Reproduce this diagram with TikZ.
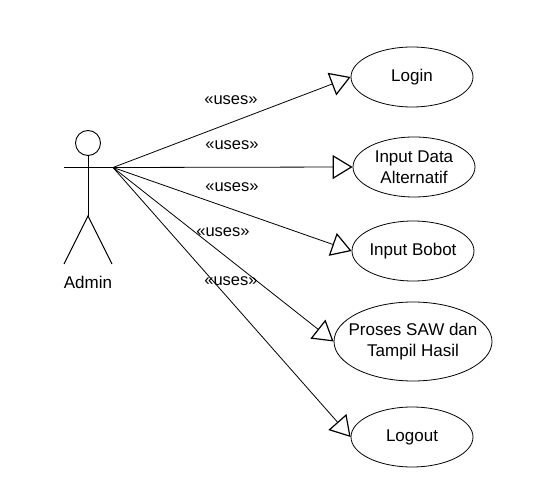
\documentclass[tikz,border=0pt]{standalone}
\usepackage{fontspec}
\setmainfont{Liberation Sans}
\usetikzlibrary{shapes.geometric,arrows.meta}
\tikzset{
  usecase/.style={draw=black,line width=0.8pt,ellipse,inner sep=-25pt,minimum width=122pt,minimum height=60pt,align=center,font=\fontsize{17}{20.5}\selectfont},
  usecasebig/.style={usecase,minimum width=158pt,minimum height=79pt},
  assoc/.style={draw=black,line width=0.8pt,-{Triangle[open,length=20pt,width=24pt,line width=1.2pt]}},
  stereo/.style={inner sep=0pt,font=\fontsize{16.5}{20}\selectfont},
  limb/.style={draw=black,line width=0.9pt},
}
\begin{document}
\begin{tikzpicture}[x=1pt,y=-1pt]
\useasboundingbox (0,0) rectangle (555,500);
\node[usecase] (login) at (412,77) {Login};
\node[usecase] (data) at (414,167) {Input Data\\Alternatif};
\node[usecase] (bobot) at (413,251) {Input Bobot};
\node[usecasebig] (saw) at (413,341.5) {Proses SAW dan\\Tampil Hasil};
\node[usecase] (logout) at (412,437) {Logout};
\node[draw=black,line width=0.9pt,circle,inner sep=0pt,minimum size=25pt] (head) at (88,143) {};
\coordinate (hip) at (88,216);
\coordinate (armL) at (64,167.5);
\coordinate (hand) at (113,167.5);
\coordinate (footL) at (64,264);
\coordinate (footR) at (112,264);
\node[inner sep=0pt,font=\fontsize{17}{21}\selectfont] (admin) at (88,282) {Admin};
\draw[limb] (head.south) -- (hip);
\draw[limb] (armL) -- (hand);
\draw[limb] (footL) -- (hip) -- (footR);
\draw[assoc] (hand) -- (login.west);
\draw[assoc] (hand) -- (data.west);
\draw[assoc] (hand) -- (bobot.west);
\draw[assoc] (hand) -- (saw.west);
\draw[assoc] (hand) -- (logout.west);
\node[stereo] (u1) at (231,100) {«uses»};
\node[stereo] (u2) at (232,145) {«uses»};
\node[stereo] (u3) at (232,187) {«uses»};
\node[stereo] (u4) at (223,232) {«uses»};
\node[stereo] (u5) at (231,281) {«uses»};
\end{tikzpicture}
\end{document}
